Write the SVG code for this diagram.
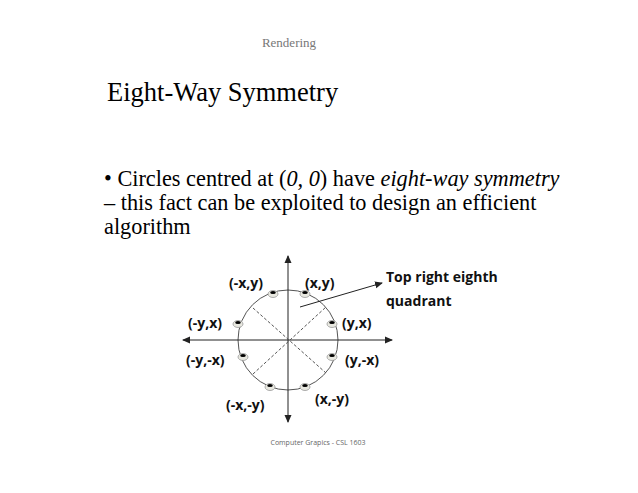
<svg xmlns="http://www.w3.org/2000/svg" width="638" height="493" viewBox="0 0 638 493">
<defs>
<marker id="ah" markerWidth="8" markerHeight="8" refX="7" refY="4" orient="auto" markerUnits="userSpaceOnUse"><path d="M0,0.5 L8,4 L0,7.5 z" fill="#222"/></marker>
<style>
.s{font-family:"Liberation Serif",serif;fill:#000}
.l{font-family:"Open Sans","Liberation Sans",sans-serif;font-weight:bold;font-size:14px;fill:#111}
.dot{fill:#e8e8e0;stroke:#999;stroke-width:0.8}
.ax{stroke:#222;stroke-width:1;fill:none}
</style>
</defs>
<rect width="638" height="493" fill="#fff"/>
<text class="s" x="289" y="47" font-size="13" text-anchor="middle" style="fill:#777">Rendering</text>
<text class="s" x="107" y="101" font-size="26.5">Eight-Way Symmetry</text>
<text class="s" x="104" y="186" font-size="22.3">• Circles centred at (<tspan font-style="italic">0, 0</tspan>) have <tspan font-style="italic">eight-way symmetry</tspan></text>
<text class="s" x="104" y="210" font-size="22.3">– this fact can be exploited to design an efficient</text>
<text class="s" x="104" y="234" font-size="22.3">algorithm</text>
<g id="connectors">
<circle cx="288" cy="340" r="50" fill="none" stroke="#555" stroke-width="1"/>
<line class="ax" x1="288" y1="340" x2="288" y2="256" marker-end="url(#ah)"/>
<line class="ax" x1="288" y1="340" x2="288" y2="422" marker-end="url(#ah)"/>
<line class="ax" x1="288" y1="340" x2="183" y2="340" marker-end="url(#ah)"/>
<line class="ax" x1="288" y1="340" x2="392" y2="340" marker-end="url(#ah)"/>
<line x1="253" y1="308" x2="326" y2="373" stroke="#555" stroke-dasharray="3,2"/>
<line x1="253" y1="374" x2="326" y2="307" stroke="#555" stroke-dasharray="3,2"/>
<line class="ax" x1="300" y1="307" x2="382" y2="283" marker-end="url(#ah)"/>
</g>
<g id="points">
<g id="p1"><ellipse class="dot" cx="305" cy="294" rx="5" ry="3.5"/><ellipse cx="305" cy="292.5" rx="2.8" ry="1.6"/></g>
<g id="p2"><ellipse class="dot" cx="273" cy="294" rx="5" ry="3.5"/><ellipse cx="273" cy="292.5" rx="2.8" ry="1.6"/></g>
<g id="p3"><ellipse class="dot" cx="332" cy="324" rx="5" ry="3.5"/><ellipse cx="332" cy="322.5" rx="2.8" ry="1.6"/></g>
<g id="p4"><ellipse class="dot" cx="238" cy="324" rx="5" ry="3.5"/><ellipse cx="238" cy="322.5" rx="2.8" ry="1.6"/></g>
<g id="p5"><ellipse class="dot" cx="243" cy="357" rx="5" ry="3.5"/><ellipse cx="243" cy="355.5" rx="2.8" ry="1.6"/></g>
<g id="p6"><ellipse class="dot" cx="332" cy="357" rx="5" ry="3.5"/><ellipse cx="332" cy="355.5" rx="2.8" ry="1.6"/></g>
<g id="p7"><ellipse class="dot" cx="270" cy="387" rx="5" ry="3.5"/><ellipse cx="270" cy="385.5" rx="2.8" ry="1.6"/></g>
<g id="p8"><ellipse class="dot" cx="305" cy="387" rx="5" ry="3.5"/><ellipse cx="305" cy="385.5" rx="2.8" ry="1.6"/></g>
</g>
<g id="labels">
<text class="l" x="229" y="288">(-x,y)</text>
<text class="l" x="305" y="288">(x,y)</text>
<text class="l" x="188" y="328">(-y,x)</text>
<text class="l" x="342" y="328">(y,x)</text>
<text class="l" x="186" y="365">(-y,-x)</text>
<text class="l" x="345" y="365">(y,-x)</text>
<text class="l" x="226" y="410">(-x,-y)</text>
<text class="l" x="315" y="404">(x,-y)</text>
<text class="l" x="386" y="282">Top right eighth</text>
<text class="l" x="386" y="306">quadrant</text>
</g>
<text x="318" y="445" font-family="'Open Sans','Liberation Sans',sans-serif" font-size="7" fill="#666" text-anchor="middle">Computer Grapics - CSL 1603</text>
</svg>
